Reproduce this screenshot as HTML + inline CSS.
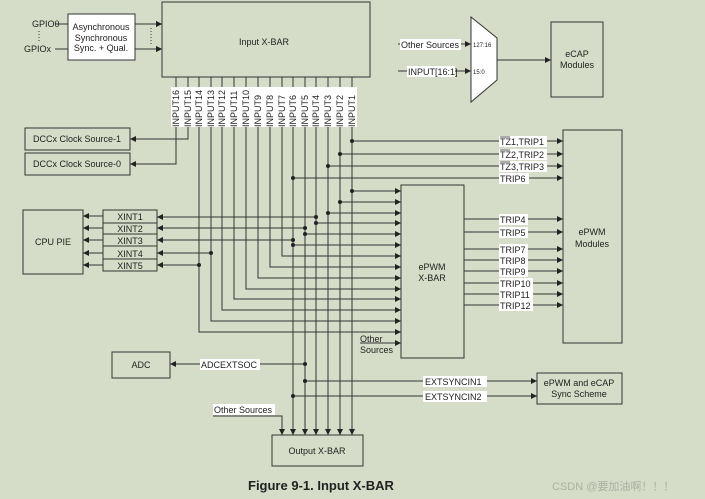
<!DOCTYPE html>
<html><head><meta charset="utf-8"><style>
html,body{margin:0;padding:0;background:#d5ddc8;}
svg{display:block;font-family:"Liberation Sans","Noto Sans CJK SC",sans-serif;}
text{font-size:9px;fill:#222;}
</style></head><body>
<svg width="705" height="499" viewBox="0 0 705 499">
<defs><marker id="a" markerWidth="6" markerHeight="6" refX="6" refY="3" orient="auto" markerUnits="userSpaceOnUse"><path d="M0,0L6,3L0,6z" fill="#222"/></marker></defs>
<rect width="705" height="499" fill="#d5ddc8"/>
<g stroke="#333" stroke-width="1" fill="none">
<!-- GPIO -->
<rect x="68" y="14" width="67" height="46" fill="#fff"/>
<line x1="55" y1="24" x2="68" y2="24"/><line x1="55" y1="49" x2="68" y2="49"/>
<line x1="39" y1="31" x2="39" y2="42" stroke-dasharray="1,2"/>
<line x1="135" y1="24" x2="162" y2="24" marker-end="url(#a)"/>
<line x1="135" y1="49" x2="162" y2="49" marker-end="url(#a)"/>
<line x1="151" y1="28" x2="151" y2="45" stroke-dasharray="1,2"/>
<rect x="162" y="2" width="208" height="75"/>
<!-- verticals -->
<path d="M352 77V435M340 77V435M328 77V435M316 77V435M305 77V435M293 77V435"/>
<path d="M282 77V256H401M270 77V267H401M258 77V278H401M246 77V289H401M234 77V299H401M222 77V310H401M211 77V321H401M199 77V332H401"/>
<path d="M188 77V139H130M176 77V164H130"/>
<rect x="25" y="128" width="105" height="22"/><rect x="25" y="153" width="105" height="22"/>
<!-- TZ/TRIP -->
<path d="M352 141H563M340 154H563M328 166H563M293 178H563"/>
<path d="M352 191H401M340 202H401M328 213H401M316 223H401M305 234H401M293 245H401M360 343H401"/>
<rect x="401" y="185" width="63" height="173"/>
<rect x="563" y="130" width="59" height="213"/>
<path d="M464 219H563M464 232H563M464 249H563M464 260H563M464 271H563M464 283H563M464 294H563M464 305H563"/>
<!-- XINT -->
<rect x="23" y="210" width="60" height="64"/>
<rect x="103" y="210" width="54" height="61" fill="#d5ddc8"/>
<path d="M103 223H157M103 234H157M103 246H157M103 259H157"/>
<path d="M316 217H157M305 228H157M293 240H157M211 253H157M199 265H157"/>
<path d="M103 216H83M103 228H83M103 240H83M103 253H83M103 265H83"/>
<!-- ADC etc -->
<rect x="112" y="352" width="58" height="26"/>
<path d="M305 364H170M305 381H537M293 396H537M213 416H282V435"/>
<rect x="537" y="373" width="85" height="31"/>
<rect x="272" y="435" width="91" height="31"/>
<!-- mux -->
<path d="M471 17L497 38V80L471 102Z" fill="#fff"/>
<path d="M398 44H471M398 71H471M497 60H551"/>
<rect x="551" y="22" width="52" height="75"/>
</g>
<!-- arrowheads -->
<g fill="#222">
<path d="M162 24l-6-3v6zM162 49l-6-3v6z"/>
<path d="M130 139l6-3v6zM130 164l6-3v6z"/>
<g id="ar">
<path d="M563 141l-6-3v6zM563 154l-6-3v6zM563 166l-6-3v6zM563 178l-6-3v6z"/>
<path d="M563 219l-6-3v6zM563 232l-6-3v6zM563 249l-6-3v6zM563 260l-6-3v6zM563 271l-6-3v6zM563 283l-6-3v6zM563 294l-6-3v6zM563 305l-6-3v6z"/>
</g>
<path d="M401 191l-6-3v6zM401 202l-6-3v6zM401 213l-6-3v6zM401 223l-6-3v6zM401 234l-6-3v6zM401 245l-6-3v6zM401 256l-6-3v6zM401 267l-6-3v6zM401 278l-6-3v6zM401 289l-6-3v6zM401 299l-6-3v6zM401 310l-6-3v6zM401 321l-6-3v6zM401 332l-6-3v6zM401 343l-6-3v6z"/>
<path d="M157 217l6-3v6zM157 228l6-3v6zM157 240l6-3v6zM157 253l6-3v6zM157 265l6-3v6z"/>
<path d="M83 216l6-3v6zM83 228l6-3v6zM83 240l6-3v6zM83 253l6-3v6zM83 265l6-3v6z"/>
<path d="M170 364l6-3v6zM537 381l-6-3v6zM537 396l-6-3v6z"/>
<path d="M282 435l-3-6h6zM293 435l-3-6h6zM305 435l-3-6h6zM316 435l-3-6h6zM328 435l-3-6h6zM340 435l-3-6h6zM352 435l-3-6h6z"/>
<path d="M471 44l-6-3v6zM471 71l-6-3v6zM551 60l-6-3v6z"/>
<!-- dots -->
<circle cx="352" cy="141" r="2"/><circle cx="340" cy="154" r="2"/><circle cx="328" cy="166" r="2"/><circle cx="293" cy="178" r="2"/>
<circle cx="352" cy="191" r="2"/><circle cx="340" cy="202" r="2"/><circle cx="328" cy="213" r="2"/>
<circle cx="316" cy="217" r="2"/><circle cx="316" cy="223" r="2"/><circle cx="305" cy="228" r="2"/><circle cx="305" cy="234" r="2"/>
<circle cx="293" cy="240" r="2"/><circle cx="293" cy="245" r="2"/><circle cx="211" cy="253" r="2"/><circle cx="199" cy="265" r="2"/>
<circle cx="305" cy="364" r="2"/><circle cx="305" cy="381" r="2"/><circle cx="293" cy="396" r="2"/>
</g>
<!-- label backgrounds -->
<g fill="#fff">
<rect x="171" y="87" width="186" height="40"/>
<rect x="499" y="136" width="48" height="11"/><rect x="499" y="149" width="48" height="11"/><rect x="499" y="161" width="48" height="11"/><rect x="499" y="173" width="30" height="11"/>
<rect x="499" y="214" width="29" height="11"/><rect x="499" y="227" width="29" height="11"/><rect x="499" y="244" width="29" height="11"/><rect x="499" y="255" width="29" height="11"/><rect x="499" y="266" width="29" height="11"/><rect x="499" y="278" width="34" height="11"/><rect x="499" y="289" width="34" height="11"/><rect x="499" y="300" width="34" height="11"/>
<rect x="200" y="359" width="60" height="11"/><rect x="423" y="376" width="64" height="11"/><rect x="423" y="391" width="64" height="11"/>
<rect x="213" y="404" width="62" height="11"/>
<rect x="400" y="39" width="61" height="11"/><rect x="407" y="66" width="48" height="11"/>
</g>
<g text-anchor="middle">
<text x="32" y="27" text-anchor="start">GPIO0</text><text x="24" y="52" text-anchor="start">GPIOx</text>
<text x="101" y="30">Asynchronous</text><text x="101" y="41">Synchronous</text><text x="101" y="51">Sync. + Qual.</text>
<text x="264" y="45">Input  X-BAR</text>
<text x="77" y="142">DCCx Clock Source-1</text><text x="77" y="167">DCCx Clock Source-0</text>
<text x="53" y="245">CPU PIE</text>
<text x="130" y="220">XINT1</text><text x="130" y="232">XINT2</text><text x="130" y="244">XINT3</text><text x="130" y="257">XINT4</text><text x="130" y="269">XINT5</text>
<text x="432" y="270">ePWM</text><text x="432" y="281">X-BAR</text>
<text x="592" y="235">ePWM</text><text x="592" y="247">Modules</text>
<text x="141" y="368">ADC</text>
<text x="317" y="454">Output X-BAR</text>
<text x="579" y="386">ePWM and eCAP</text><text x="579" y="397">Sync Scheme</text>
<text x="577" y="57">eCAP</text><text x="577" y="68">Modules</text>
</g>
<g>
<text x="500" y="145">TZ1,TRIP1</text><text x="500" y="158">TZ2,TRIP2</text><text x="500" y="170">TZ3,TRIP3</text><text x="500" y="182">TRIP6</text>
<path d="M500 137h10M500 150h10M500 162h10" stroke="#222" stroke-width="0.8"/>
<text x="500" y="223">TRIP4</text><text x="500" y="236">TRIP5</text><text x="500" y="253">TRIP7</text><text x="500" y="264">TRIP8</text><text x="500" y="275">TRIP9</text><text x="500" y="287">TRIP10</text><text x="500" y="298">TRIP11</text><text x="500" y="309">TRIP12</text>
<text x="360" y="342">Other</text><text x="360" y="353">Sources</text>
<text x="201" y="368">ADCEXTSOC</text><text x="425" y="385">EXTSYNCIN1</text><text x="425" y="400">EXTSYNCIN2</text>
<text x="214" y="413">Other Sources</text>
<text x="401" y="48">Other Sources</text><text x="408" y="75">INPUT[16:1]</text>
<text x="473" y="47" style="font-size:6px">127:16</text><text x="473" y="74" style="font-size:6px">15:0</text>
</g>
<g style="font-size:9px">
<text transform="translate(179,127) rotate(-90)">INPUT16</text>
<text transform="translate(191,127) rotate(-90)">INPUT15</text>
<text transform="translate(202,127) rotate(-90)">INPUT14</text>
<text transform="translate(214,127) rotate(-90)">INPUT13</text>
<text transform="translate(225,127) rotate(-90)">INPUT12</text>
<text transform="translate(237,127) rotate(-90)">INPUT11</text>
<text transform="translate(249,127) rotate(-90)">INPUT10</text>
<text transform="translate(261,127) rotate(-90)">INPUT9</text>
<text transform="translate(273,127) rotate(-90)">INPUT8</text>
<text transform="translate(285,127) rotate(-90)">INPUT7</text>
<text transform="translate(296,127) rotate(-90)">INPUT6</text>
<text transform="translate(308,127) rotate(-90)">INPUT5</text>
<text transform="translate(319,127) rotate(-90)">INPUT4</text>
<text transform="translate(331,127) rotate(-90)">INPUT3</text>
<text transform="translate(343,127) rotate(-90)">INPUT2</text>
<text transform="translate(355,127) rotate(-90)">INPUT1</text>
</g>
<text x="248" y="490" style="font-size:13px;font-weight:bold">Figure 9-1. Input X-BAR</text>
<text x="552" y="490" style="font-size:11px;fill:#aab0a4">CSDN @要加油啊！！！</text>
</svg>
</body></html>
